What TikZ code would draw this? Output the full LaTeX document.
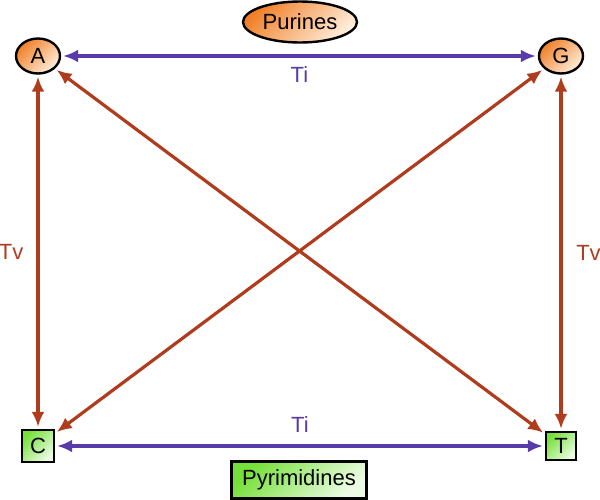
\documentclass[tikz,border=0pt]{standalone}
\usepackage{fontspec}
\setmainfont{Liberation Sans}
\usepackage{xcolor}
\usetikzlibrary{shapes.geometric,arrows.meta}
\definecolor{tipurple}{RGB}{88,58,168}
\definecolor{tvred}{RGB}{176,60,30}
\definecolor{purdark}{RGB}{240,128,40}
\definecolor{purlight}{RGB}{255,238,220}
\definecolor{pyrdark}{RGB}{118,224,58}
\definecolor{pyrlight}{RGB}{236,252,228}
\tikzset{
  purine/.style={ellipse,draw,line width=1.2pt,top color=purdark,bottom color=purlight,shading angle=45,inner sep=0pt},
  pyrimidine/.style={rectangle,draw,line width=1.2pt,top color=pyrdark,bottom color=pyrlight,shading angle=45,inner sep=0pt},
  ti/.style={tipurple,line width=1.6pt,{Latex[length=7.5pt,width=6.5pt]}-{Latex[length=7.5pt,width=6.5pt]},shorten <=1pt,shorten >=1pt},
  tv/.style={tvred,line width=1.6pt,{Latex[length=7.5pt,width=6.5pt]}-{Latex[length=7.5pt,width=6.5pt]},shorten <=1pt,shorten >=1pt}
}

\begin{document}
\begin{tikzpicture}[x=0.5pt,y=-0.5pt,font=\fontsize{11}{13}\selectfont]
\useasboundingbox (0,0) rectangle (600,499);
% purines
\node[purine,minimum width=57pt,minimum height=20.5pt] (purines) at (300,22) {Purines};
\node[purine,minimum width=22pt,minimum height=17.5pt] (A) at (38,56) {A};
\node[purine,minimum width=22pt,minimum height=17.5pt] (G) at (561,56) {G};
% pyrimidines
\node[pyrimidine,minimum size=16pt] (C) at (38,446) {C};
\node[pyrimidine,minimum width=15pt,minimum height=14pt] (T) at (561,446) {T};
\node[pyrimidine,minimum width=67.5pt,minimum height=18.5pt] (pyrimidines) at (299,480) {Pyrimidines};
% transitions
\draw[ti] (A) -- (G) node[midway,below=1pt] {Ti};
\draw[ti] (C) -- (T) node[midway,above=2.4pt] {Ti};
% transversions
\draw[tv] (A) -- (C) node[midway,left=3.2pt] {Tv};
\draw[tv] (G) -- (T) node[midway,right=3.5pt] {Tv};
\draw[tv] (A) -- (T);
\draw[tv] (G) -- (C);
\end{tikzpicture}
\end{document}
